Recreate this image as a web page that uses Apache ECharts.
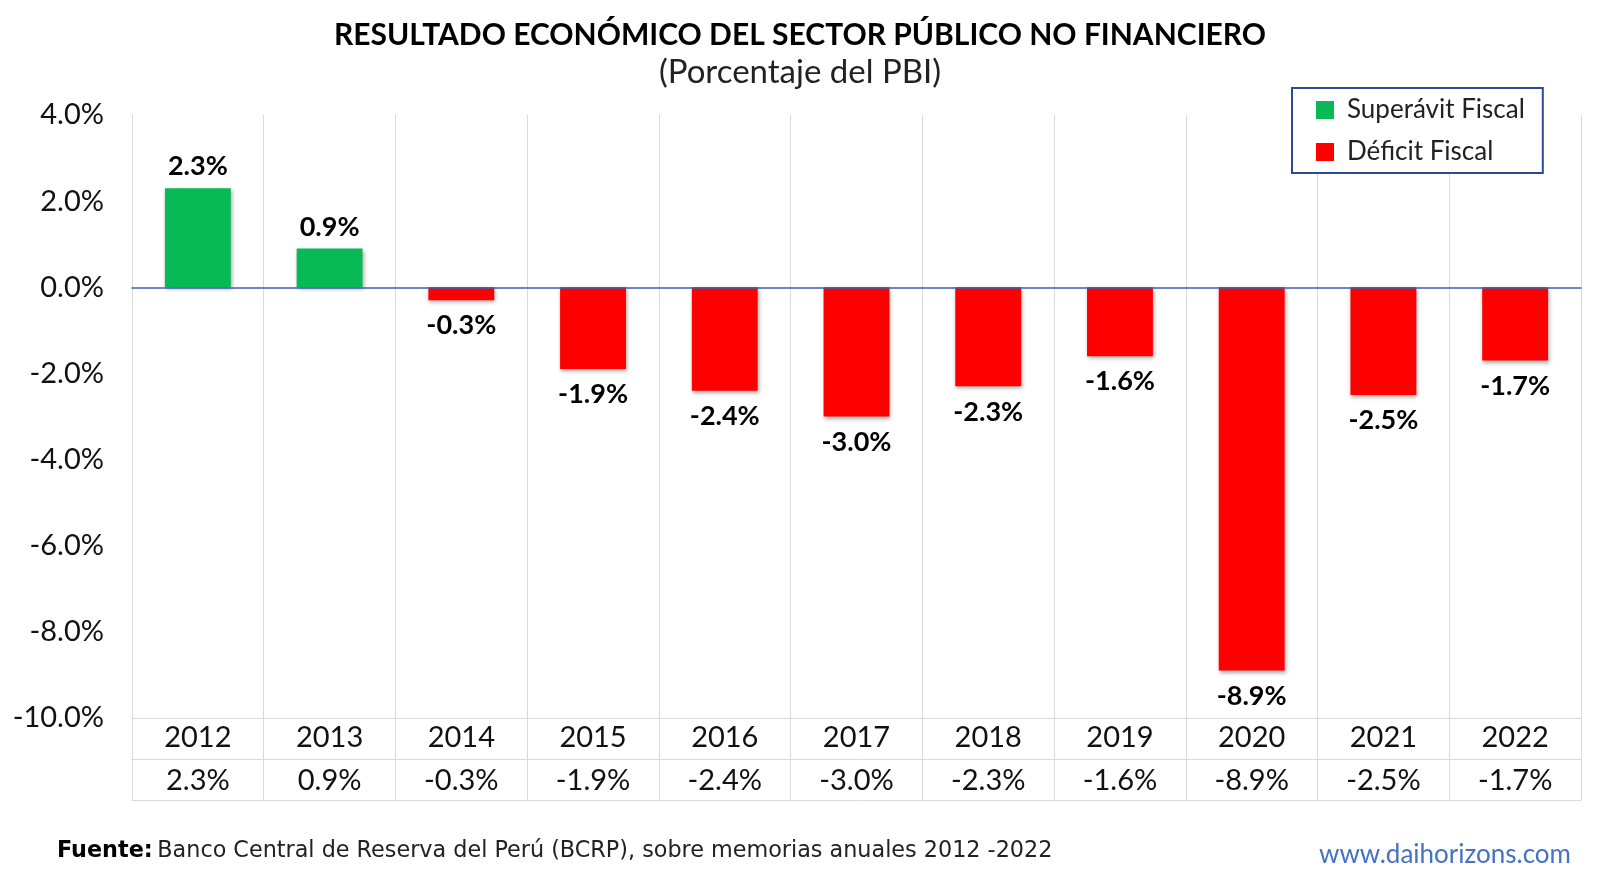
<!DOCTYPE html>
<html>
<head>
<meta charset="utf-8">
<script src="https://cdn.jsdelivr.net/npm/echarts@6/dist/echarts.min.js"></script>
<style>
html,body{margin:0;padding:0;background:#fff;}
#chart{width:1600px;height:882px;}
</style>
</head>
<body>
<div id="chart"></div>
<script>
const years = ['2012','2013','2014','2015','2016','2017','2018','2019','2020','2021','2022'];
const values = [2.3, 0.9, -0.3, -1.9, -2.4, -3.0, -2.3, -1.6, -8.9, -2.5, -1.7];
const seriesNames = ['Superávit Fiscal', 'Déficit Fiscal'];
const yMin = -10, yMax = 4, yStep = 2;

const FONT = 'Lato';
const pct = v => v.toFixed(1) + '%';
const surplus = values.map(v => v > 0 ? v : '-');
const deficit = values.map(v => v <= 0 ? v : '-');
const tableGray = '#d9d9d9';

const chart = echarts.init(document.getElementById('chart'), null, {renderer: 'canvas'});
const barShadow = {shadowBlur: 4, shadowColor: 'rgba(0,0,0,0.35)', shadowOffsetX: 1, shadowOffsetY: 2};

chart.setOption({
  backgroundColor: '#ffffff',
  animation: false,
  textStyle: {fontFamily: FONT},
  title: [
    {text: 'RESULTADO ECONÓMICO DEL SECTOR PÚBLICO NO FINANCIERO', left: 'center', top: 15,
     textStyle: {fontFamily: FONT, fontWeight: 'bold', fontSize: 30, color: '#000'}},
    {text: '(Porcentaje del PBI)', left: 'center', top: 51,
     textStyle: {fontFamily: FONT, fontWeight: 'normal', fontSize: 33, color: '#222'}},
    {text: '{b|Fuente:} {n|Banco Central de Reserva del Perú (BCRP), sobre memorias anuales 2012 -2022}', left: 52, top: 835,
     textStyle: {fontWeight: 'normal',
                 rich: {b: {fontFamily: 'DejaVu Sans', fontWeight: 'bold', fontSize: 22.3, color: '#000'},
                        n: {fontFamily: 'DejaVu Sans', fontWeight: 'normal', fontSize: 22.3, color: '#222'}}}},
    {text: 'www.daihorizons.com', right: 24, top: 837,
     textStyle: {fontFamily: FONT, fontWeight: 'normal', fontSize: 26, color: '#4472c4'}}
  ],
  legend: {
    data: seriesNames,
    orient: 'vertical',
    left: 1292, top: 88,
    padding: [9, 18, 8, 24],
    itemGap: 16,
    itemWidth: 18, itemHeight: 18,
    icon: 'rect',
    borderColor: '#2b4a9a', borderWidth: 2,
    backgroundColor: '#fff',
    textStyle: {fontFamily: FONT, fontSize: 26, color: '#222', padding: [0, 0, 0, 8]}
  },
  grid: {left: 132, right: 19, top: 115, bottom: 164, containLabel: false},
  xAxis: [
    {type: 'category', data: years, position: 'bottom',
     axisLine: {onZero: true, lineStyle: {color: '#3a62a8', width: 1.5}},
     axisTick: {show: false}, axisLabel: {show: false},
     splitLine: {show: true, lineStyle: {color: tableGray, width: 1}}, z: 3},
    {type: 'category', data: years, position: 'bottom',
     axisLine: {onZero: false, lineStyle: {color: tableGray, width: 1}},
     axisTick: {show: true, length: 82, lineStyle: {color: tableGray}},
     axisLabel: {show: true, margin: 5, fontFamily: FONT, fontSize: 29, color: '#111'}},
    {type: 'category', data: years, position: 'bottom', offset: 41,
     axisLine: {onZero: false, lineStyle: {color: tableGray, width: 1}},
     axisTick: {show: false},
     axisLabel: {show: true, margin: 7, fontFamily: FONT, fontSize: 29, color: '#111',
                 formatter: (val, idx) => pct(values[idx])}},
    {type: 'category', data: years, position: 'bottom', offset: 82,
     axisLine: {onZero: false, lineStyle: {color: tableGray, width: 1}},
     axisTick: {show: false}, axisLabel: {show: false}}
  ],
  yAxis: {
    type: 'value', min: yMin, max: yMax, interval: yStep,
    axisLine: {show: false}, axisTick: {show: false},
    splitLine: {show: false},
    axisLabel: {margin: 28, fontFamily: FONT, fontSize: 29, color: '#111',
                formatter: v => v.toFixed(1) + '%'}
  },
  series: [
    {name: seriesNames[0], type: 'bar', xAxisIndex: 0, data: surplus, barWidth: '50%', barGap: '-100%',
     itemStyle: Object.assign({color: '#08b956'}, barShadow),
     label: {show: true, position: 'top', distance: 8, fontFamily: FONT, fontWeight: 'bold', fontSize: 27, color: '#000',
             formatter: p => pct(p.value)}},
    {name: seriesNames[1], type: 'bar', xAxisIndex: 0, data: deficit, barWidth: '50%',
     itemStyle: Object.assign({color: '#ff0000'}, barShadow),
     label: {show: true, position: 'bottom', distance: 12, fontFamily: FONT, fontWeight: 'bold', fontSize: 27, color: '#000',
             formatter: p => pct(p.value)}}
  ]
});
</script>
</body>
</html>
